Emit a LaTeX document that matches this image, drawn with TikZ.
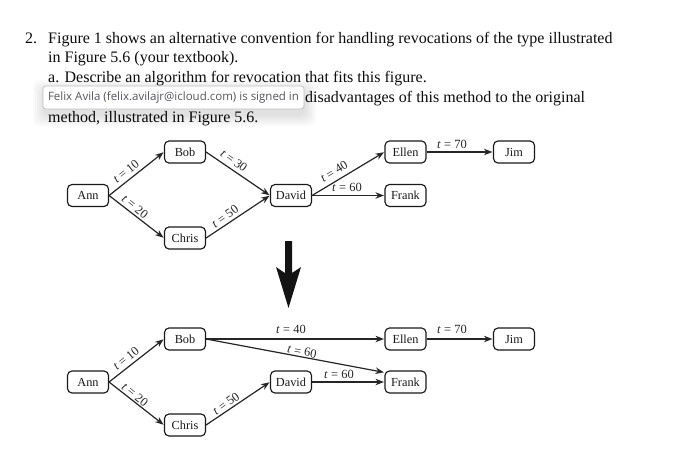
\documentclass[tikz,border=0pt]{standalone}
\usepackage{fontspec}
\setmainfont{Liberation Serif}
\newfontfamily\uifont{Open Sans}
\usetikzlibrary{arrows.meta,calc}
\definecolor{tiptext}{RGB}{85,85,96}
\tikzset{
  x=1pt,y=-1pt,
  person/.style={draw=black!90,line width=1.15pt,rounded corners=4.5pt,minimum width=41pt,minimum height=22pt,inner sep=0pt,font=\fontsize{12.3}{12}\selectfont,text=black!90},
  edge/.style={draw=black!85,line width=1.2pt,-{Stealth[length=8.5pt,width=6.5pt]},shorten >=0.5pt},
  lab/.style={font=\fontsize{12.5}{12}\selectfont,text=black!85,inner sep=0pt},
  para/.style={anchor=base west,inner sep=0pt,font=\fontsize{16}{16}\selectfont,text=black!95},
}
\begin{document}
\begin{tikzpicture}
\useasboundingbox (0,0) rectangle (677,455);
\fill[white] (0,0) rectangle (677,455);
% question text
\node[para] (q0) at (25,43) {2.};
\node[para] (q1) at (48,43) {Figure 1 shows an alternative convention for handling revocations of the type illustrated};
\node[para] (q2) at (48,62) {in Figure 5.6 (your textbook).};
\node[para] (q3) at (48,82) {a. Describe an algorithm for revocation that fits this figure.};
\node[para] (q4) at (305,102) {disadvantages of this method to the original};
\node[para] (q5) at (48,122) {method, illustrated in Figure 5.6.};
% tooltip shadow and box
\foreach \g in {12,10,8,6,4,2}{
  \fill[black,opacity=0.02,rounded corners=7pt] (43-\g+2,86-\g+6) rectangle (304+\g,109+\g+5);
}
\node[draw=black!25,fill=white,rounded corners=3pt,line width=0.7pt,minimum width=261pt,minimum height=23pt,inner sep=0pt,font=\uifont\fontsize{11.5}{12}\selectfont,text=tiptext] (tip) at (173.5,97.5) {Felix Avila (felix.avilajr@icloud.com) is signed in};
% top graph
\node[person] (ann) at (88,195.5) {Ann};
\node[person] (bob) at (185,152) {Bob};
\node[person] (chris) at (185,238) {Chris};
\node[person] (david) at (291,195.5) {David};
\node[person] (ellen) at (405.5,152) {Ellen};
\node[person] (frank) at (405.5,195.5) {Frank};
\node[person] (jim) at (514,152) {Jim};
\draw[edge] (ann.east) -- (bob.west);
\draw[edge] (ann.east) -- (chris.west);
\draw[edge] (bob.east) -- (david.west);
\draw[edge] (chris.east) -- (david.west);
\draw[edge] (david.east) -- (ellen.west);
\draw[edge] (david.east) -- (frank.west);
\draw[edge] (ellen.east) -- (jim.west);
\node[lab,rotate=39] at (126,171.5) {\textit{t} = 10};
\node[lab,rotate=-39] at (135,206.5) {\textit{t} = 20};
\node[lab,rotate=-36] at (234,160.5) {\textit{t} = 30};
\node[lab,rotate=36] at (225,216.5) {\textit{t} = 50};
\node[lab,rotate=32] at (334,171.5) {\textit{t} = 40};
\node[lab] at (347,187) {\textit{t} = 60};
\node[lab] at (452,144) {\textit{t} = 70};
% arrow between
\coordinate (bigtop) at (288.5,241);
\coordinate (bigtip) at (288.5,308);
\fill[black!92] ($(bigtop)+(-3.5,0)$) -- ($(bigtop)+(3.5,0)$) -- (292,273) -- (301,267) -- (bigtip) -- (276,267) -- (285,273) -- cycle;
% bottom graph
\node[person] (ann2) at (88,382) {Ann};
\node[person] (bob2) at (185,339) {Bob};
\node[person] (chris2) at (185,425) {Chris};
\node[person] (david2) at (291,382) {David};
\node[person] (ellen2) at (405.5,339) {Ellen};
\node[person] (frank2) at (405.5,382) {Frank};
\node[person] (jim2) at (514,339) {Jim};
\draw[edge] (ann2.east) -- (bob2.west);
\draw[edge] (ann2.east) -- (chris2.west);
\draw[edge] (chris2.east) -- (david2.west);
\draw[edge] (bob2.east) -- (ellen2.west);
\draw[edge] (bob2.east) -- ($(frank2.north west)+(0,2)$);
\draw[edge] (david2.east) -- (frank2.west);
\draw[edge] (ellen2.east) -- (jim2.west);
\node[lab,rotate=39] at (126,358.5) {\textit{t} = 10};
\node[lab,rotate=-39] at (135,394.5) {\textit{t} = 20};
\node[lab,rotate=36] at (226,404) {\textit{t} = 50};
\node[lab] at (291,329) {\textit{t} = 40};
\node[lab,rotate=-10] at (302,351.5) {\textit{t} = 60};
\node[lab] at (339,374) {\textit{t} = 60};
\node[lab] at (452,329) {\textit{t} = 70};
\end{tikzpicture}
\end{document}
